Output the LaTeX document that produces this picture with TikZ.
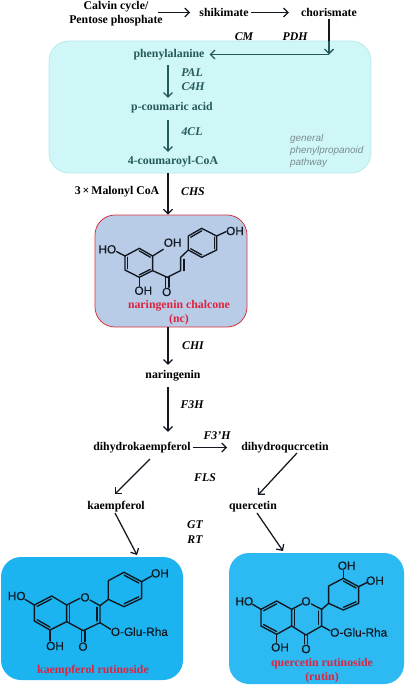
\documentclass[tikz,border=0pt]{standalone}
\usepackage{fontspec}
\setmainfont{Liberation Serif}
\setsansfont{Liberation Sans}
\newfontfamily\atomfont[FakeBold=0.35]{Liberation Sans}
\usetikzlibrary{arrows.meta,calc}
\definecolor{tealfill}{HTML}{CFF7F7}
\definecolor{tealedge}{HTML}{BDE9EA}
\definecolor{tealtext}{HTML}{255A5C}
\definecolor{bluefill}{HTML}{B8CCE8}
\definecolor{redlabel}{HTML}{DC2440}
\definecolor{redborder}{HTML}{D8343F}
\definecolor{skyA}{HTML}{1BB3F0}
\definecolor{skyB}{HTML}{2DB9F2}
\definecolor{ink}{HTML}{111820}
\definecolor{inkmid}{HTML}{7B8C8E}
\newcommand{\dbl}[3]{\draw[bond] ($#1!.17!#3$) -- ($#2!.17!#3$);}
\tikzset{
  every node/.style={inner sep=2pt},
  metab/.style={font=\fontsize{11.8}{14.5}\selectfont\bfseries,align=center,yshift=-1.5pt},
  enz/.style={font=\fontsize{11.8}{14}\selectfont\bfseries\itshape,align=center,yshift=-1.5pt},
  arr/.style={-{Straight Barb[length=4.5pt,width=9pt,line width=1.25pt]},line width=1.25pt,ink},
  plainline/.style={line width=1.25pt,ink},
  roundbox/.style={rounded corners=20pt,line width=.8pt,anchor=center},
  bond/.style={line width=1.35pt,ink,line cap=round,line join=round},
  atom/.style={font=\atomfont\fontsize{11.8}{12}\selectfont,ink,inner sep=0pt},
  redname/.style={metab,text=redlabel},
}
\begin{document}
\begin{tikzpicture}[x=1pt,y=-1pt]
\useasboundingbox (0,0) rectangle (406,685);
\fill[white] (0,0) rectangle (406,685);
\coordinate (axis) at (168,0);

% boxes
\node[roundbox,fill=tealfill,draw=tealedge,minimum width=322pt,minimum height=132pt] (gpp) at (210,107) {};
\node[roundbox,fill=bluefill,draw=redborder,minimum width=152pt,minimum height=112pt] (ncbox) at (171,271) {};
\node[roundbox,fill=skyA,minimum width=182pt,minimum height=123pt] (kbox) at (92,618.5) {};
\node[roundbox,fill=skyB,minimum width=175pt,minimum height=131pt] (qbox) at (316.5,618.5) {};

% metabolites
\node[metab] (cal) at (116,12) {Calvin cycle/\\Pentose phosphate};
\node[metab] (shi) at (224,11) {shikimate};
\node[metab] (cho) at (329,11) {chorismate};
\node[metab,text=tealtext] (phe) at (169,53) {phenylalanine};
\node[metab,text=tealtext] (pca) at (172,106) {p-coumaric acid};
\node[metab,text=tealtext] (cou) at (173,160) {4-coumaroyl-CoA};
\node[metab] (mal) at (117,190) {3\kern2pt×\kern2pt Malonyl CoA};
\node[metab] (nar) at (173,374) {naringenin};
\node[metab] (dhk) at (142,446) {dihydrokaempferol};
\node[metab] (dhq) at (285,446) {dihydroqucrcetin};
\node[metab] (kae) at (116,505) {kaempferol};
\node[metab] (que) at (253,505) {quercetin};

% enzymes
\node[enz] (cm) at (244,35) {CM};
\node[enz] (pdh) at (295,35) {PDH};
\node[enz,text=tealtext] (pal) at (192,71) {PAL};
\node[enz,text=tealtext] (c4h) at (193,85) {C4H};
\node[enz,text=tealtext] (cl) at (192,130) {4CL};
\node[enz] (chs) at (193,190) {CHS};
\node[enz] (chi) at (193,344) {CHI};
\node[enz] (f3h) at (192,403) {F3H};
\node[enz] (f3p) at (217,434) {F3’H};
\node[enz] (fls) at (205,476) {FLS};
\node[enz] (gt) at (195,523) {GT};
\node[enz] (rt) at (195,538) {RT};

\node[font=\sffamily\itshape\fontsize{9.9}{12}\selectfont,text=inkmid,align=left,anchor=west,inner sep=0pt] (gen) at (290,151) {general\\phenylpropanoid\\pathway};

% connectors
\draw[arr,shorten <=-7pt,shorten >=7pt] (cal.east |- shi) -- (shi.west);
\draw[arr,shorten >=10pt] (shi.east) -- (cho.west);
\coordinate (turn) at (cho |- phe);
\draw[plainline] (cho.south) -- (gpp.north -| cho);
\draw[arr,tealtext] (gpp.north -| cho) -- (turn);
\draw[arr,tealtext,shorten >=3pt] (turn) -- (phe.east);
\draw[arr,tealtext,shorten <=3pt,shorten >=2pt] (phe.south -| axis) -- (pca.north -| axis);
\draw[arr,tealtext,shorten <=5pt,shorten >=2pt] (pca.south -| axis) -- (cou.north -| axis);
\draw[arr] (gpp.south -| axis) -- (ncbox.north -| axis);
\draw[arr,shorten >=3pt] (ncbox.south -| axis) -- (nar.north -| axis);
\draw[arr,shorten <=4pt,shorten >=8pt] (nar.south -| axis) -- (dhk.north -| axis);
\draw[arr,shorten >=12pt] (dhk.east) -- (dhq.west);
\coordinate (dk1) at (150,459);
\coordinate (dk2) at (115,494);
\draw[arr] (dk1) -- (dk2);
\coordinate (dq1) at (297,453);
\coordinate (dq2) at (258,495);
\draw[arr] (dq1) -- (dq2);
\coordinate (kb) at (137,555);
\coordinate (qb) at (283,551);
\coordinate (ka) at (115,513);
\coordinate (qa) at (257,513);
\draw[arr] (ka) -- (kb);
\draw[arr] (qa) -- (qb);

% naringenin chalcone structure
\begin{scope}[shift={(80,200)},x=.3333pt,y=-.3333pt]
\draw[bond] (178,145) -- (218,168) -- (218,212) -- (178,232) -- (135,210) -- (135,168) -- cycle;
\dbl{(135,168)}{(135,210)}{(177,189)}
\dbl{(178,232)}{(218,212)}{(177,189)}
\dbl{(218,168)}{(178,145)}{(177,189)}
\draw[bond] (135,168) -- (110,155);
\draw[bond] (218,168) -- (250,148);
\draw[bond] (178,232) -- (178,258);
\draw[bond] (218,212) -- (262,232) -- (302,212) -- (302,172) -- (325,150);
\draw[bond] (312,212) -- (312,178);
\draw[bond] (257,232) -- (257,262);
\draw[bond] (267,232) -- (267,262);
\draw[bond] (325,150) -- (325,108) -- (365,85) -- (410,108) -- (410,150) -- (365,172) -- cycle;
\dbl{(325,108)}{(365,85)}{(367,129)}
\dbl{(410,108)}{(410,150)}{(367,129)}
\dbl{(365,172)}{(325,150)}{(367,129)}
\draw[bond] (410,108) -- (438,95);
\node[atom] (n1) at (82,148) {HO};
\node[atom] (n2) at (278,128) {OH};
\node[atom] (n3) at (465,93) {OH};
\node[atom] (n4) at (190,272) {OH};
\node[atom] (n5) at (260,276) {O};
\end{scope}
\node[redname] (ncl) at (179,311) {naringenin chalcone\\(nc)};

% kaempferol structure
\begin{scope}[shift={(0,540)},x=.3333pt,y=-.3333pt]
\draw[bond] (155,168) -- (200,195) -- (200,245) -- (150,270) -- (103,243) -- (103,195) -- cycle;
\dbl{(155,168)}{(103,195)}{(152,220)}
\dbl{(103,243)}{(150,270)}{(152,220)}
\draw[bond] (209,195) -- (209,245);
\draw[bond] (200,195) -- (240,175);
\draw[bond] (270,180) -- (300,197) -- (300,248) -- (250,272) -- (200,245);
\draw[bond] (291,202) -- (291,243);
\draw[bond] (245,272) -- (245,305);
\draw[bond] (255,272) -- (255,305);
\draw[bond] (150,270) -- (150,303);
\draw[bond] (103,195) -- (75,178);
\draw[bond] (300,197) -- (325,178);
\draw[bond] (300,248) -- (332,268);
\draw[bond] (325,178) -- (325,122) -- (372,97) -- (425,125) -- (425,175) -- (372,200) -- cycle;
\dbl{(372,97)}{(425,125)}{(375,148)}
\dbl{(425,175)}{(372,200)}{(375,148)}
\draw[bond] (425,125) -- (455,108);
\node[atom] (k1) at (50,168) {HO};
\node[atom] (k2) at (255,172) {O};
\node[atom] (k3) at (480,100) {OH};
\node[atom] (k4) at (165,318) {OH};
\node[atom] (k5) at (249,320) {O};
\node[atom,anchor=west] (k6) at (332,275) {O-Glu-Rha};
\end{scope}
\node[redname] (kl) at (93,669) {kaempferol rutinoside};

% quercetin structure
\begin{scope}[shift={(206,540)},x=.3333pt,y=-.3333pt]
\draw[bond] (212,183) -- (257,208) -- (257,258) -- (212,283) -- (165,258) -- (165,208) -- cycle;
\dbl{(212,183)}{(165,208)}{(211,233)}
\dbl{(165,258)}{(212,283)}{(211,233)}
\draw[bond] (266,208) -- (266,258);
\draw[bond] (257,208) -- (287,192);
\draw[bond] (316,192) -- (347,208) -- (347,258) -- (300,285) -- (257,258);
\draw[bond] (338,213) -- (338,253);
\draw[bond] (295,285) -- (295,312);
\draw[bond] (305,285) -- (305,312);
\draw[bond] (212,283) -- (212,307);
\draw[bond] (165,208) -- (140,193);
\draw[bond] (347,208) -- (368,190);
\draw[bond] (347,258) -- (372,272);
\draw[bond] (368,190) -- (368,138) -- (412,115) -- (458,140) -- (458,190) -- (412,210) -- cycle;
\dbl{(412,115)}{(458,140)}{(413,163)}
\dbl{(458,190)}{(412,210)}{(413,163)}
\draw[bond] (412,115) -- (412,92);
\draw[bond] (458,140) -- (482,128);
\node[atom] (q1) at (115,184) {HO};
\node[atom] (q2) at (300,184) {O};
\node[atom] (q3) at (422,77) {OH};
\node[atom] (q4) at (507,122) {OH};
\node[atom] (q5) at (222,322) {OH};
\node[atom] (q6) at (300,327) {O};
\node[atom,anchor=west] (q7) at (372,277) {O-Glu-Rha};
\end{scope}
\node[redname] (ql) at (322,669) {quercetin rutinoside\\(rutin)};
\end{tikzpicture}
\end{document}
